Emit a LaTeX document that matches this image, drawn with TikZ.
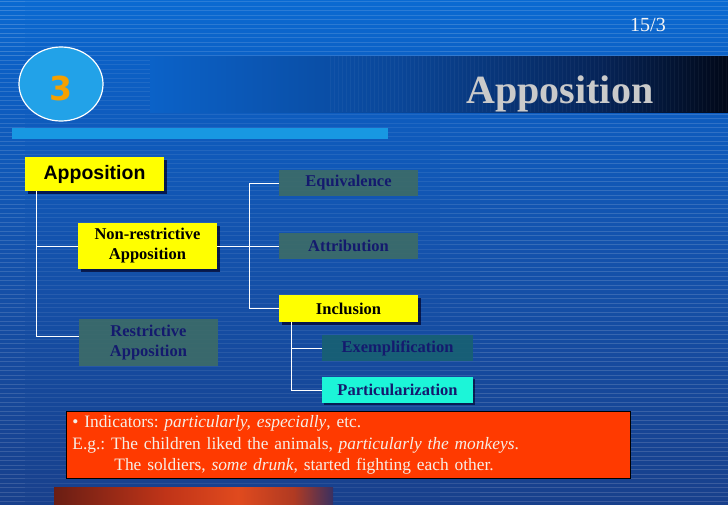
\documentclass[tikz,border=0pt]{standalone}
\usepackage{fontspec}
\setmainfont{Liberation Serif}
\newfontfamily\arialf{Liberation Sans}
\newfontfamily\dejaf{DejaVu Sans}
\usetikzlibrary{shadows,calc,shapes.geometric}

\definecolor{bgtop}{HTML}{0A6AD2}
\definecolor{bgup}{HTML}{0C5FC4}
\definecolor{bgmid}{HTML}{1452AC}
\definecolor{bgbot}{HTML}{18408C}
\definecolor{ylw}{HTML}{FFFF00}
\definecolor{grn}{HTML}{3C6B68}
\definecolor{exm}{HTML}{186073}
\definecolor{aqua}{HTML}{1CF5D8}
\definecolor{navy}{HTML}{141A6E}
\definecolor{redbox}{HTML}{FF3A00}
\definecolor{lbar}{HTML}{1898E2}
\definecolor{circ}{HTML}{22A2E8}
\definecolor{orng}{HTML}{F5A000}
\definecolor{ttl}{HTML}{CACACA}
\definecolor{txtc}{HTML}{F6EEE6}
\definecolor{bandA}{HTML}{0B62C8}
\definecolor{bandB}{HTML}{0A4698}
\definecolor{bandC}{HTML}{062458}
\definecolor{bandD}{HTML}{010818}
\definecolor{rA}{HTML}{6A1E14}
\definecolor{rB}{HTML}{C03418}
\definecolor{rC}{HTML}{E04A1E}
\definecolor{rD}{HTML}{B03A22}
\definecolor{rE}{HTML}{3A3060}

\pgfdeclareverticalshading{bgsh}{100bp}{color(0bp)=(bgbot); color(25bp)=(bgbot); color(50bp)=(bgmid); color(68bp)=(bgup); color(75bp)=(bgtop); color(100bp)=(bgtop)}
\pgfdeclarehorizontalshading{bandsh}{100bp}{color(0bp)=(bandA); color(25bp)=(bandA); color(46.6bp)=(bandB); color(63.9bp)=(bandC); color(75bp)=(bandD); color(100bp)=(bandD)}
\pgfdeclarehorizontalshading{redsh}{100bp}{color(0bp)=(rA); color(25bp)=(rA); color(45bp)=(rB); color(58bp)=(rC); color(68bp)=(rD); color(75bp)=(rE); color(100bp)=(rE)}

\tikzset{
  boxbase/.style={rectangle, inner sep=0pt, align=center, font=\fontsize{16.5}{20}\selectfont\bfseries},
  ybox/.style={boxbase, fill=ylw, text=black, drop shadow={shadow xshift=2.5pt, shadow yshift=-2.5pt, opacity=.7, fill=black!85!blue}},
  gbox/.style={boxbase, fill=grn, fill opacity=.92, text opacity=1, text=navy},
  ebox/.style={boxbase, fill=exm, fill opacity=.92, text opacity=1, text=navy},
  abox/.style={boxbase, fill=aqua, text=navy, drop shadow={shadow xshift=2pt, shadow yshift=-2pt, opacity=.6, fill=black!85!blue}},
  conn/.style={draw=white, line width=1pt},
  stripe/.style={draw=white, line width=.6pt}
}

\begin{document}
\frenchspacing
\begin{tikzpicture}[x=1pt, y=-1pt]
\useasboundingbox (0,0) rectangle (728,504);
\shade[shading=bgsh] (0,0) rectangle (728,504);
% stripes
\foreach \yy in {1.5,6,...,504} {
  \draw[stripe, opacity=.08] (0,\yy) -- (728,\yy);
  \draw[stripe, opacity=.04] (440,\yy) -- (728,\yy);
  \draw[stripe, opacity=.04] (480,\yy) -- (728,\yy);
  \draw[stripe, opacity=.07] (0,\yy) -- (25,\yy);
}
\foreach \yy in {1.5,6,...,56} {
  \draw[stripe, opacity=.06] (0,\yy) -- (480,\yy);
}
% dark title band
\shade[shading=bandsh] (150,56) rectangle (728,112);
\foreach \xx in {330,334,...,728} {
  \draw[white, opacity=.04, line width=.5pt] (\xx,56) -- (\xx,112);
}
% light blue bar
\fill[lbar] (12,128) rectangle (388,139);
% bottom red gradient bar
\shade[shading=redsh] (54,487) rectangle (333,504);

% header
\node[ellipse, draw=white, line width=1.2pt, fill=circ, minimum width=84pt, minimum height=74pt, inner sep=0pt] (circ) at (61,84) {};
\node[font=\dejaf\bfseries\fontsize{33}{33}\selectfont, text=orng, inner sep=0pt] (num) at (61,88) {3};
\node[font=\fontsize{40}{40}\selectfont\bfseries, text=ttl, anchor=base, inner sep=0pt] (title) at (560,103) {Apposition};
\node[font=\fontsize{20}{20}\selectfont, text=white!92!gray, anchor=base, inner sep=0pt] (pg) at (648,31) {15/3};

% diagram boxes
\node[ybox, minimum width=139pt, minimum height=34pt, font=\arialf\bfseries\fontsize{19.5}{20}\selectfont] (app) at (94.5,174) {Apposition};
\node[ybox, minimum width=139pt, minimum height=46pt] (nonr) at (147.5,246) {Non-restrictive\\Apposition};
\node[gbox, minimum width=139pt, minimum height=47pt] (restr) at (148.5,342.5) {Restrictive\\Apposition};
\node[gbox, minimum width=139pt, minimum height=26pt] (equiv) at (348.5,183) {Equivalence};
\node[gbox, minimum width=139pt, minimum height=26pt] (attr) at (348.5,246) {Attribution};
\node[ybox, minimum width=139pt, minimum height=27pt] (incl) at (348.5,308.5) {Inclusion};
\node[ebox, minimum width=151pt, minimum height=26pt] (exem) at (397.5,348) {Exemplification};
\node[abox, minimum width=151pt, minimum height=26pt] (part) at (397.5,390) {Particularization};

% connectors
\draw[conn] ([xshift=12pt]app.south west) |- (nonr.west);
\draw[conn] ([xshift=12pt]app.south west) |- ([yshift=6.5pt]restr.west);
\draw[conn] (nonr.east) -- ++(32,0) coordinate (j1);
\draw[conn] (j1) |- (equiv.west);
\draw[conn] (j1) |- (attr.west);
\draw[conn] (j1) |- (incl.west);
\draw[conn] ([xshift=13pt]incl.south west) |- (exem.west);
\draw[conn] ([xshift=13pt]incl.south west) |- (part.west);

% indicators box
\node[anchor=north west, fill=redbox, draw=black, line width=.8pt, minimum width=564pt, minimum height=67pt, text width=552pt, inner xsep=6pt, inner ysep=0pt, align=left, text=txtc, font=\fontsize{17.4}{21.5}\selectfont] (ind) at (66,411)
 {\textbullet\ Indicators: \textit{particularly, especially}, etc.\\
  E.g.: The children liked the animals, \textit{particularly the monkeys}.\\
  \hspace*{42pt}The soldiers, \textit{some drunk}, started fighting each other.};
\end{tikzpicture}
\end{document}
